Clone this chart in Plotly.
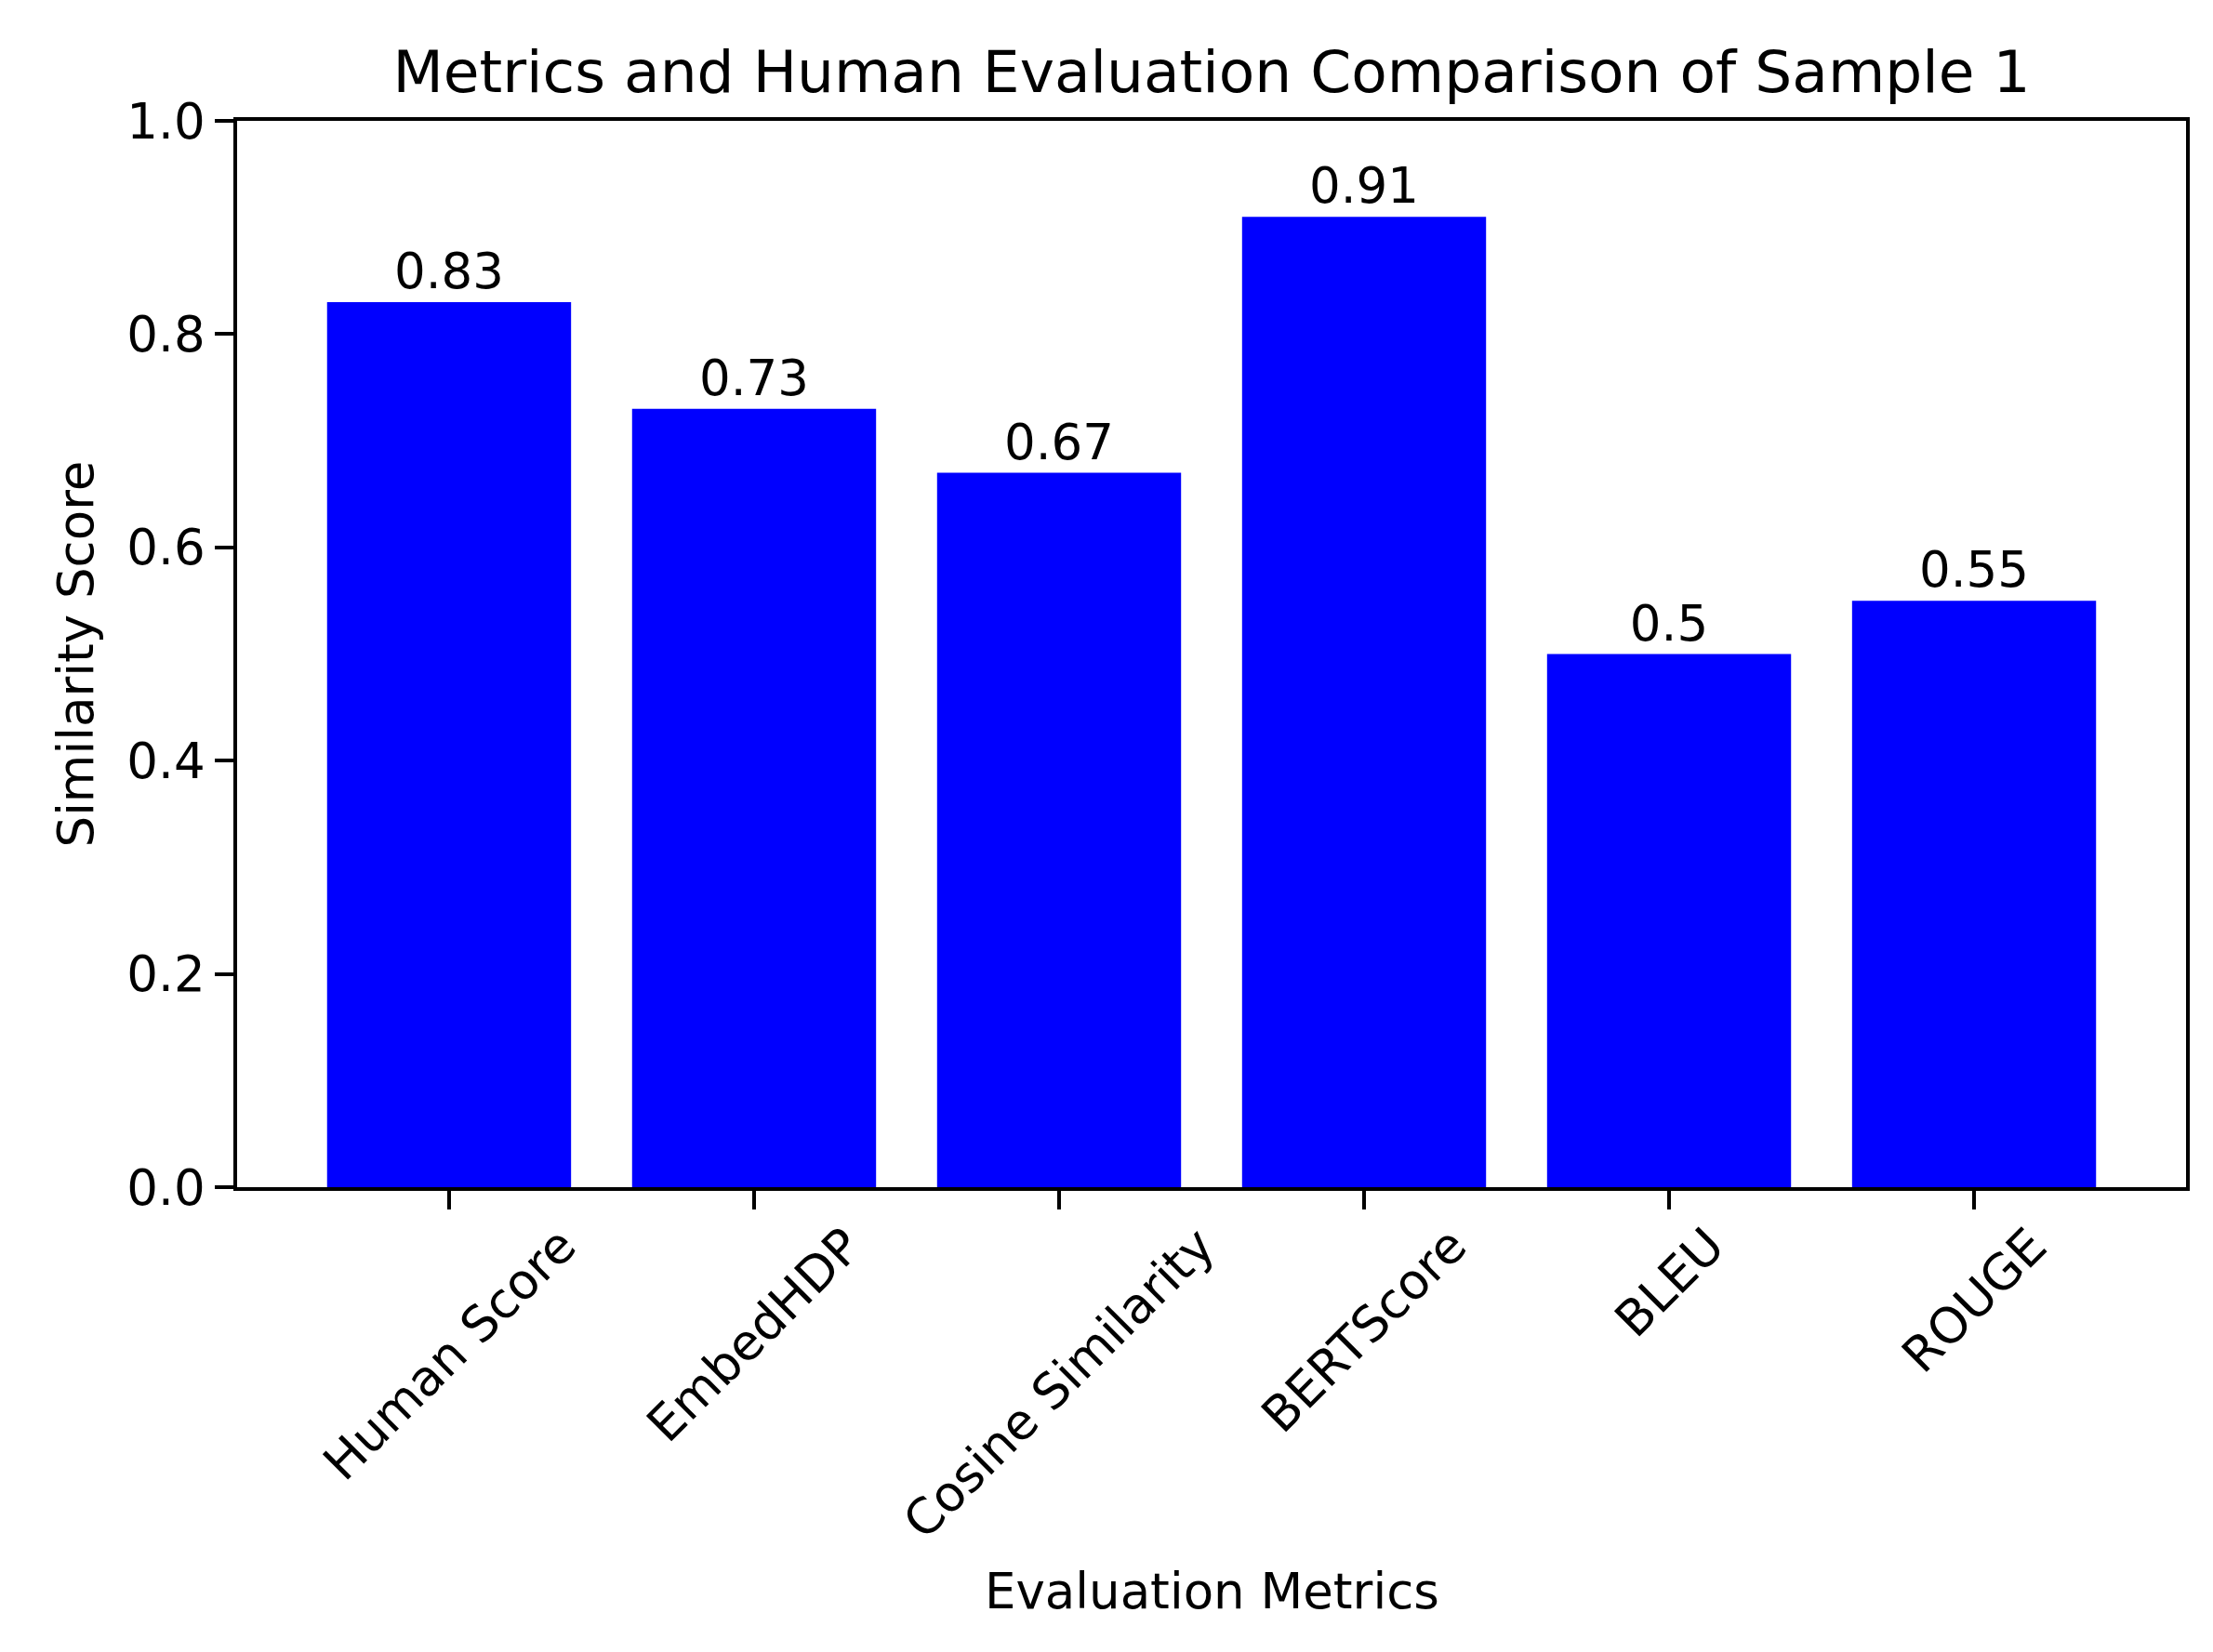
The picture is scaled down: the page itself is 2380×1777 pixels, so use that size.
import plotly.graph_objects as go

categories = ["Human Score", "EmbedHDP", "Cosine Similarity", "BERTScore", "BLEU", "ROUGE"]
scores = [0.83, 0.73, 0.67, 0.91, 0.5, 0.55]
y_ticks = [0.0, 0.2, 0.4, 0.6, 0.8, 1.0]

W, H = 2380, 1777
L, R, T, B = 247, 37, 122, 508
FONT = "DejaVu Sans"
FS = 53
plot_w = W - L - R
plot_h = H - T - B

fig = go.Figure()
fig.add_trace(go.Bar(
    x=categories,
    y=scores,
    width=0.8,
    marker=dict(color="#0000ff", line=dict(width=0)),
    text=[str(v) for v in scores],
    textposition="outside",
    textfont=dict(family=FONT, size=FS, color="black"),
    cliponaxis=False,
    showlegend=False,
))

annotations = []
for c in categories:
    annotations.append(dict(
        x=c, y=0, xref="x", yref="y",
        text=c, showarrow=False, textangle=-45,
        xanchor="center", yanchor="top", yshift=-29,
        font=dict(family=FONT, size=FS, color="black"),
    ))
annotations.append(dict(
    x=(73 - L) / plot_w, y=0.5, xref="paper", yref="paper",
    text="Similarity Score", showarrow=False, textangle=-90,
    xanchor="center", yanchor="middle",
    font=dict(family=FONT, size=FS, color="black"),
))
annotations.append(dict(
    x=0.5, y=(H - B - 1703) / plot_h, xref="paper", yref="paper",
    text="Evaluation Metrics", showarrow=False,
    xanchor="center", yanchor="middle",
    font=dict(family=FONT, size=FS, color="black"),
))

fig.update_layout(
    width=W, height=H,
    margin=dict(l=L, r=R, t=T, b=B, pad=0),
    paper_bgcolor="white", plot_bgcolor="white",
    font=dict(family=FONT, color="black"),
    title=dict(
        text="Metrics and Human Evaluation Comparison of Sample 1",
        x=0.5, xref="paper", xanchor="center",
        y=1 - 69 / H, yref="container", yanchor="middle",
        font=dict(family=FONT, size=63, color="black"),
    ),
    annotations=annotations,
    bargap=0.2,
)
fig.update_xaxes(
    type="category",
    range=[-0.695, 5.695],
    showticklabels=False,
    ticks="outside", ticklen=20, tickwidth=3.5, tickcolor="black",
    showline=True, linecolor="black", linewidth=3.5, mirror=True,
    showgrid=False, zeroline=False,
)
fig.update_yaxes(
    range=[0, 1],
    tickvals=y_ticks,
    ticktext=[f"{v:.1f}" for v in y_ticks],
    ticks="outside", ticklen=20, tickwidth=3.5, tickcolor="black",
    tickfont=dict(family=FONT, size=FS, color="black"),
    showline=True, linecolor="black", linewidth=3.5, mirror=True,
    showgrid=False, zeroline=False,
)

fig.write_html("out.html")
